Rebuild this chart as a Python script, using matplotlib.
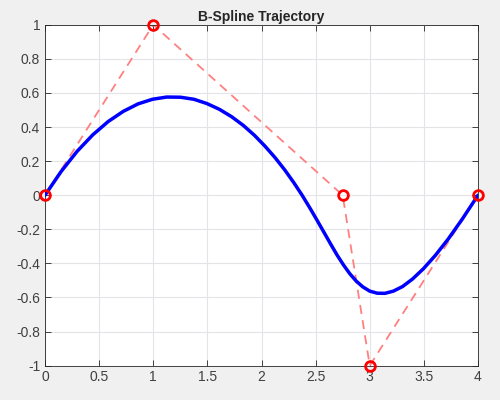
import matplotlib
matplotlib.use('Agg')
import matplotlib.pyplot as plt
from matplotlib.ticker import FuncFormatter

plt.rcParams['font.family'] = ['Liberation Sans', 'DejaVu Sans']

# control polygon
ctrl_x = [0, 1, 2.75, 3, 4]
ctrl_y = [0, 1, 0, -1, 0]

# spline trajectory
curve_x = [0.0, 0.149, 0.296, 0.441, 0.583, 0.723, 0.860, 0.993, 1.124, 1.251, 1.375,
           1.495, 1.611, 1.723, 1.831, 1.934, 2.032, 2.126, 2.214, 2.297, 2.375,
           2.447, 2.515, 2.579, 2.640, 2.699, 2.758, 2.816, 2.875, 2.936, 3.0,
           3.068, 3.14, 3.218, 3.303, 3.395, 3.495, 3.605, 3.725, 3.856, 4.0]
curve_y = [0.0, 0.139, 0.257, 0.354, 0.432, 0.492, 0.536, 0.563, 0.576, 0.575, 0.563,
           0.538, 0.504, 0.461, 0.410, 0.352, 0.288, 0.220, 0.149, 0.075, 0.0,
           -0.075, -0.149, -0.220, -0.288, -0.352, -0.410, -0.461, -0.504, -0.538, -0.563,
           -0.575, -0.576, -0.563, -0.536, -0.492, -0.432, -0.354, -0.257, -0.139, 0.0]

xticks = [0, 0.5, 1, 1.5, 2, 2.5, 3, 3.5, 4]
yticks = [-1, -0.8, -0.6, -0.4, -0.2, 0, 0.2, 0.4, 0.6, 0.8, 1]

fig = plt.figure(figsize=(5, 4), dpi=100, facecolor='#f0f0f0')
ax = fig.add_axes([0.09, 0.086, 0.866, 0.852])

ax.plot(ctrl_x, ctrl_y, '--', color='#ff8080', lw=1.3, dashes=(5, 3.5), zorder=2)
ax.plot(curve_x, curve_y, '-', color='#0000ff', lw=2.5, zorder=3,
        solid_capstyle='round', solid_joinstyle='round')
ax.plot(ctrl_x, ctrl_y, 'o', mfc='none', mec='#ff0000', mew=2, ms=7, zorder=4, clip_on=False)

ax.set_xlim(0, 4)
ax.set_ylim(-1, 1)
ax.set_xticks(xticks)
ax.set_yticks(yticks)
fmt = FuncFormatter(lambda v, p: '%g' % v)
ax.xaxis.set_major_formatter(fmt)
ax.yaxis.set_major_formatter(fmt)
ax.tick_params(direction='in', top=True, right=True, labelsize=10, colors='#262626',
               labelcolor='#404040', length=4, width=0.6)
ax.grid(True, color='#e3e3e8', lw=0.8)
ax.set_axisbelow(True)
for s in ax.spines.values():
    s.set_color('#262626')
    s.set_linewidth(0.6)

ax.set_title('B-Spline Trajectory', fontsize=10, fontweight='bold', color='#262626', pad=3)

fig.savefig('out.png', dpi=100, facecolor=fig.get_facecolor())
